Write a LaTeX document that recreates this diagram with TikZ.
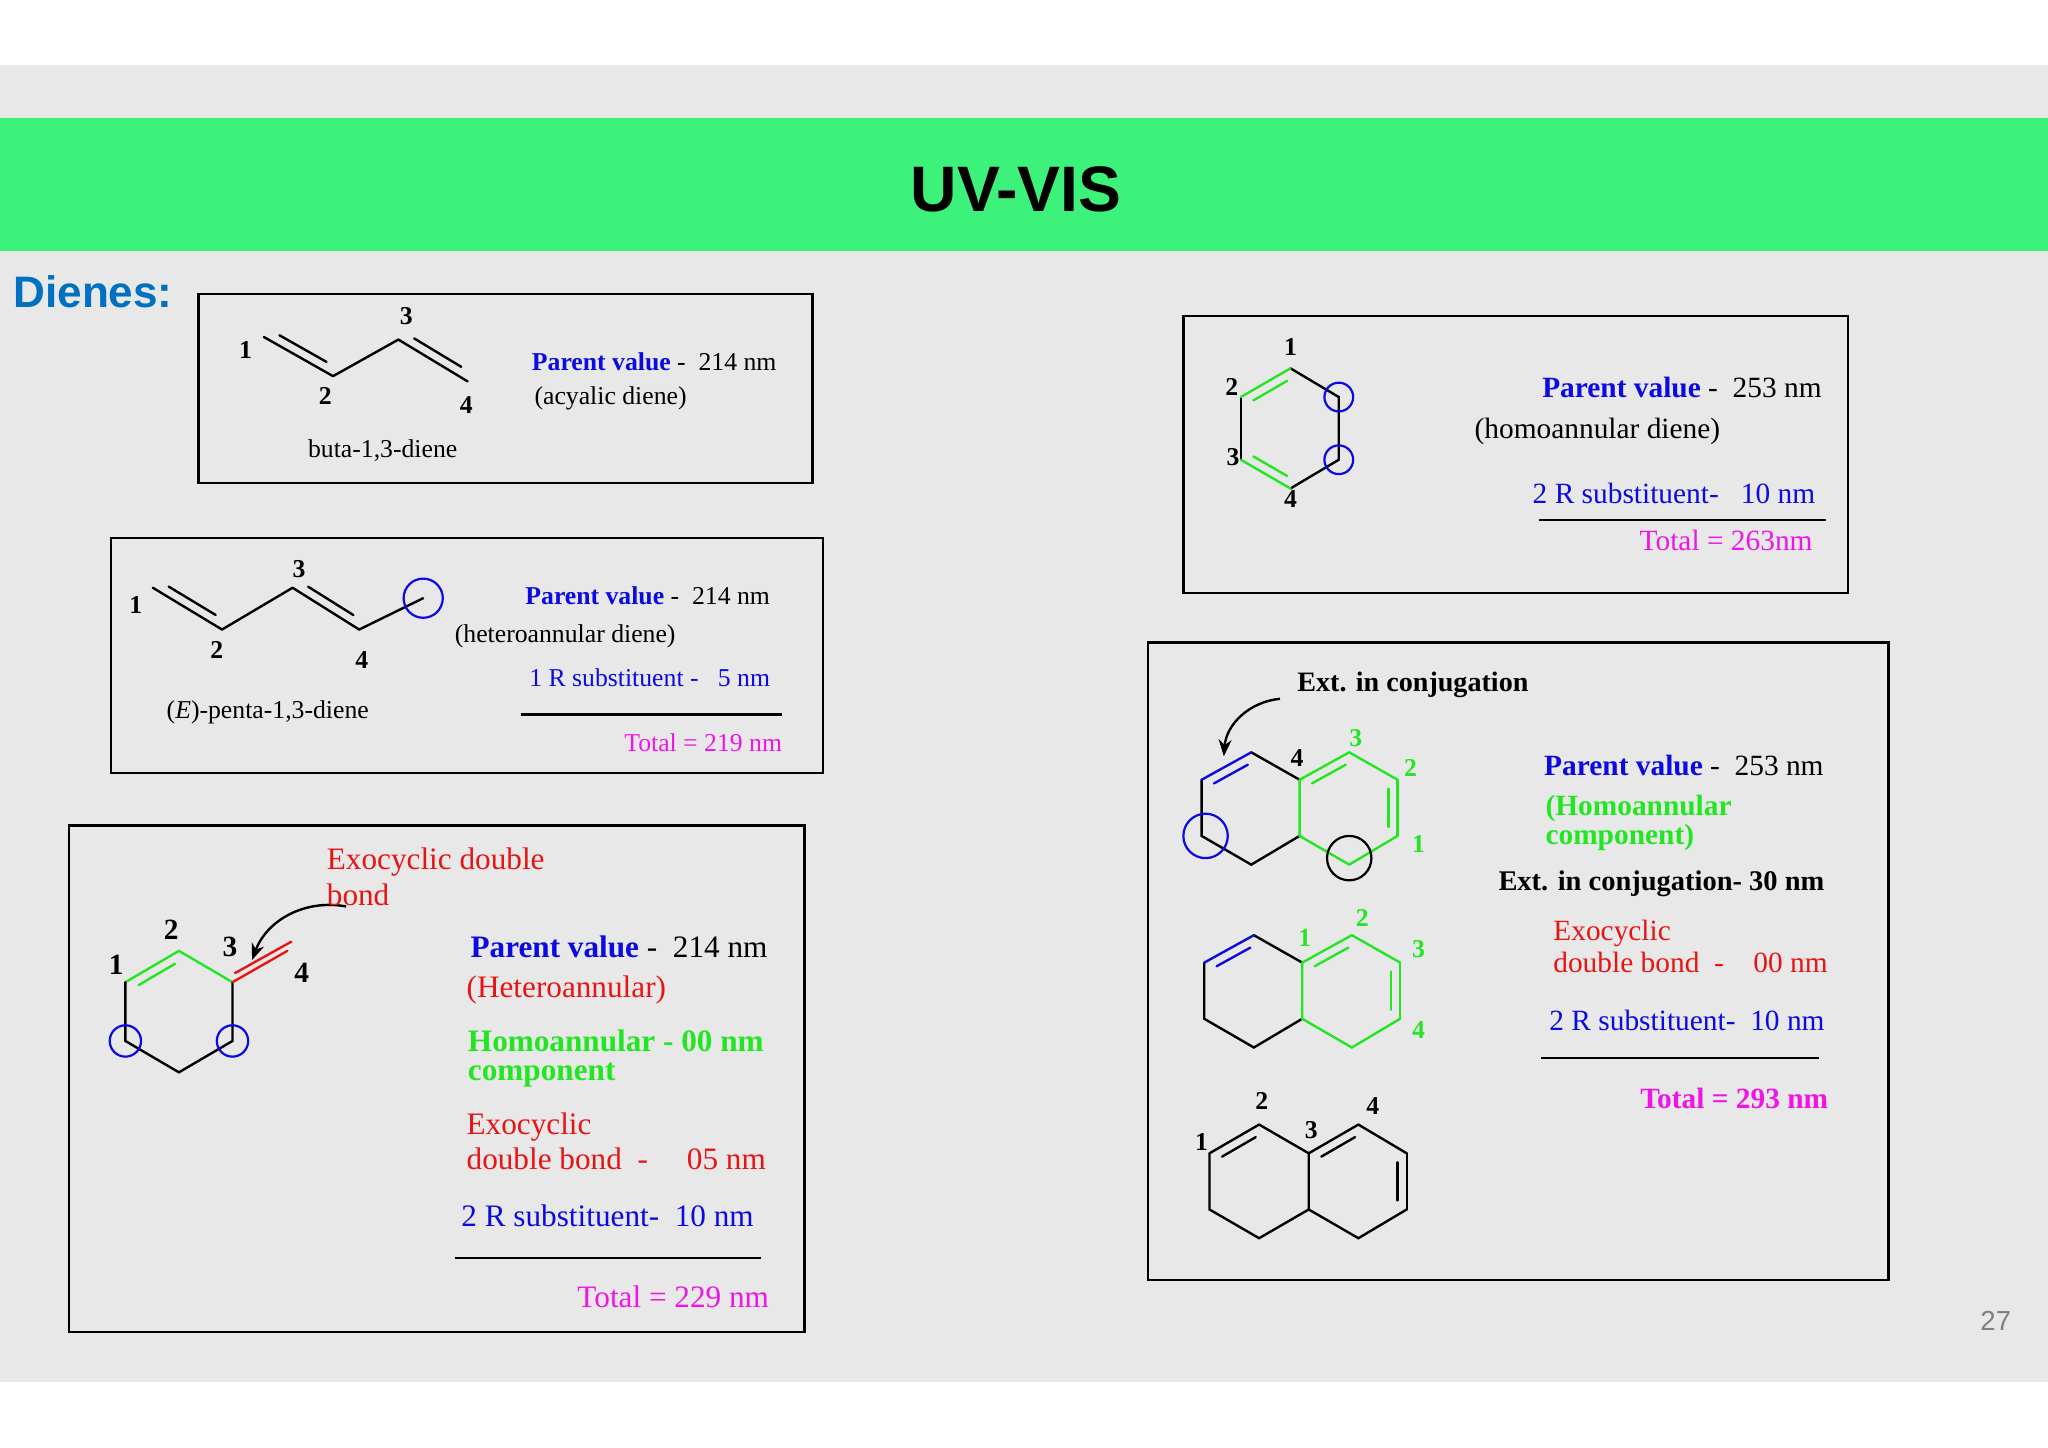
\documentclass[tikz,border=0pt]{standalone}
\usepackage{fontspec}
\setmainfont{Liberation Serif}
\newfontfamily\sansf{Liberation Sans}
\usetikzlibrary{calc,arrows.meta}
\definecolor{bgray}{RGB}{232,232,232}
\definecolor{band}{RGB}{60,242,122}
\definecolor{dblue}{RGB}{0,112,192}
\definecolor{pblue}{RGB}{10,10,225}
\definecolor{cgreen}{RGB}{35,230,35}
\definecolor{cmag}{RGB}{240,20,230}
\definecolor{cred}{RGB}{232,20,20}
\newcommand\dbond[4]{\draw[#1] (#2)--(#3);
 \draw[#1] ($(#2)!0.16!(#3)!5pt!#4:(#3)$)--($(#3)!0.16!(#2)!5pt!-#4:(#2)$);}
\tikzset{box/.style={draw=black,line width=1.3pt},
 bond/.style={line width=1.3pt,line cap=round},
 lab/.style={font=\fontsize{14}{16}\selectfont\bfseries},
 txt/.style={font=\fontsize{14}{16}\selectfont,anchor=west,inner sep=0pt},
 txtr/.style={font=\fontsize{16}{18}\selectfont,anchor=west,inner sep=0pt},
 txtb/.style={font=\fontsize{17}{19}\selectfont,anchor=west,inner sep=0pt},
 circ/.style={draw=pblue,line width=1.2pt},
 curarr/.style={-{Stealth[length=9pt,width=7pt]},line width=1.3pt}}
\begin{document}
\begin{tikzpicture}[x=0.025cm,y=-0.025cm]
\useasboundingbox (0,0) rectangle (1568,1108);
\fill[white] (0,0) rectangle (1568,1108);
\fill[bgray] (0,50) rectangle (1568,1058);
\fill[band] (0,90) rectangle (1568,192);
\node (title) at (778,145) {\sansf\bfseries\fontsize{35}{40}\selectfont UV-VIS};
\node[anchor=west,inner sep=0pt,text=dblue] (dienes) at (10,223) {\sansf\bfseries\fontsize{24}{28}\selectfont Dienes:};
\node (pg) at (1528,1011) {\sansf\fontsize{15}{18}\selectfont\color{gray}27};

% boxes
\draw[box] (152,225) rectangle (622,370);
\draw[box] (85,412) rectangle (630,592);
\draw[box] (53,632) rectangle (616,1020);
\draw[box] (906,242) rectangle (1415,454);
\draw[box] (879,492) rectangle (1446,980);

% box1 butadiene
\coordinate (a1) at (202,258); \coordinate (a2) at (255,288);
\coordinate (a3) at (305,260); \coordinate (a4) at (358,292);
\begin{scope}[bond]
\dbond{}{a1}{a2}{90}
\draw (a2)--(a3);
\dbond{}{a3}{a4}{90}
\end{scope}
\node[lab] (la1) at (188,268) {1}; \node[lab] (la2) at (249,303) {2};
\node[lab] (la3) at (311,242) {3}; \node[lab] (la4) at (357,310) {4};
\node[font=\fontsize{14}{16}\selectfont] (n1) at (293,345) {buta-1,3-diene};
\node[txt] (p1) at (407,277) {\textcolor{pblue}{\bfseries Parent value} -\ \ 214 nm};
\node[txt] (p1b) at (409,305) {(acyalic diene)};

% box2 pentadiene
\coordinate (b1) at (117,450); \coordinate (b2) at (170,482);
\coordinate (b3) at (224,450); \coordinate (b4) at (275,482);
\coordinate (b5) at (324,458);
\begin{scope}[bond]
\dbond{}{b1}{b2}{90}
\draw (b2)--(b3);
\dbond{}{b3}{b4}{90}
\draw (b4)--(b5);
\end{scope}
\draw[circ] (b5) circle (15);
\node[lab] (lb1) at (104,463) {1}; \node[lab] (lb2) at (166,498) {2};
\node[lab] (lb3) at (229,436) {3}; \node[lab] (lb4) at (277,505) {4};
\node[font=\fontsize{14}{16}\selectfont] (n2) at (205,545) {(\textit{E})-penta-1,3-diene};
\node[txt] (p2) at (402,456) {\textcolor{pblue}{\bfseries Parent value} -\ \ 214 nm};
\node[txt] (p2b) at (348,487) {(heteroannular diene)};
\node[txt,text=pblue] (p2c) at (405,519) {1 R substituent -\ \ \ 5 nm};
\draw[line width=1.2pt] (399,547)--(599,547);
\node[txt,anchor=east,text=cmag] (p2d) at (599,569) {Total = 219 nm};

% box4 hexagon
\coordinate (c1) at (988,282); \coordinate (c2) at (1025,304);
\coordinate (c3) at (1025,352); \coordinate (c4) at (988,374);
\coordinate (c5) at (950,352); \coordinate (c6) at (950,304);
\begin{scope}[bond]
\draw (c1)--(c2)--(c3)--(c4);
\draw (c5)--(c6);
\dbond{cgreen}{c6}{c1}{-90}
\dbond{cgreen}{c4}{c5}{-90}
\end{scope}
\draw[circ] (c2) circle (11); \draw[circ] (c3) circle (11);
\node[lab] (lc1) at (988,266) {1}; \node[lab] (lc2) at (943,296) {2};
\node[lab] (lc3) at (944,350) {3}; \node[lab] (lc4) at (988,382) {4};
\node[txtr,anchor=east] (p4) at (1395,297) {\textcolor{pblue}{\bfseries Parent value} -\ \ 253 nm};
\node[font=\fontsize{16}{18}\selectfont] (p4b) at (1223,330) {(homoannular diene)};
\node[txtr,anchor=east,text=pblue] (p4c) at (1390,378) {2 R substituent-\ \ \ 10 nm};
\draw[line width=1.2pt] (1178,398)--(1398,398);
\node[txtr,anchor=east,text=cmag] (p4d) at (1388,414) {Total = 263nm};

% box5 molecule 1
\coordinate (d1) at (958,576); \coordinate (d2) at (995,597);
\coordinate (d3) at (995,640); \coordinate (d4) at (958,662);
\coordinate (d5) at (920,640); \coordinate (d6) at (920,597);
\coordinate (d7) at (1033,576); \coordinate (d8) at (1070,597);
\coordinate (d9) at (1070,640); \coordinate (d10) at (1033,662);
\begin{scope}[bond]
\draw (d1)--(d2); \draw (d3)--(d4)--(d5)--(d6);
\dbond{pblue}{d6}{d1}{-90}
\draw[cgreen] (d2)--(d3)--(d10)--(d9); \draw[cgreen] (d7)--(d8);
\dbond{cgreen}{d2}{d7}{-90}
\dbond{cgreen}{d8}{d9}{-90}
\end{scope}
\draw[circ] (923,640) circle (17);
\draw[line width=1.2pt] (1033,657) circle (17);
\node[lab] (ld4) at (993,580) {4};
\node[lab,text=cgreen] (ld3) at (1038,565) {3};
\node[lab,text=cgreen] (ld2) at (1080,588) {2};
\node[lab,text=cgreen] (ld1) at (1086,646) {1};
\coordinate (ar1) at (980,535); \coordinate (ar2) at (937,579);
\draw[curarr] (ar1) to[bend right=40] (ar2);
\node[txt,font=\fontsize{15.3}{17}\selectfont\bfseries] (ext) at (993,524) {Ext. in conjugation};

% molecule 2
\coordinate (e1) at (960,716); \coordinate (e2) at (997,737);
\coordinate (e3) at (997,780); \coordinate (e4) at (960,802);
\coordinate (e5) at (922,780); \coordinate (e6) at (922,737);
\coordinate (e7) at (1035,716); \coordinate (e8) at (1072,737);
\coordinate (e9) at (1072,780); \coordinate (e10) at (1035,802);
\begin{scope}[bond]
\draw (e1)--(e2); \draw (e3)--(e4)--(e5)--(e6);
\dbond{pblue}{e6}{e1}{-90}
\draw[cgreen] (e2)--(e3)--(e10)--(e9); \draw[cgreen] (e7)--(e8);
\dbond{cgreen}{e2}{e7}{-90}
\dbond{cgreen}{e8}{e9}{-90}
\end{scope}
\node[lab,text=cgreen] (le1) at (999,718) {1};
\node[lab,text=cgreen] (le2) at (1043,703) {2};
\node[lab,text=cgreen] (le3) at (1086,727) {3};
\node[lab,text=cgreen] (le4) at (1086,789) {4};

% molecule 3
\coordinate (f1) at (964,861); \coordinate (f2) at (1002,883);
\coordinate (f3) at (1002,926); \coordinate (f4) at (964,948);
\coordinate (f5) at (926,926); \coordinate (f6) at (926,883);
\coordinate (f7) at (1040,861); \coordinate (f8) at (1077,883);
\coordinate (f9) at (1077,926); \coordinate (f10) at (1040,948);
\begin{scope}[bond]
\draw (f1)--(f2); \draw (f2)--(f3)--(f4)--(f5)--(f6);
\dbond{}{f6}{f1}{-90}
\draw (f3)--(f10)--(f9); \draw (f7)--(f8);
\dbond{}{f2}{f7}{-90}
\dbond{}{f8}{f9}{-90}
\end{scope}
\node[lab] (lf1) at (920,874) {1}; \node[lab] (lf2) at (966,843) {2};
\node[lab] (lf3) at (1004,865) {3}; \node[lab] (lf4) at (1051,847) {4};

\node[txtr] (p5) at (1182,586) {\textcolor{pblue}{\bfseries Parent value} -\ \ 253 nm};
\node[txtr,text=cgreen,font=\fontsize{16}{18}\selectfont\bfseries] (p5b) at (1183,619) {(Homoannular};
\node[txtr,text=cgreen,font=\fontsize{16}{18}\selectfont\bfseries] (p5c) at (1183,641) {component)};
\node[txtr,font=\fontsize{15.5}{18}\selectfont\bfseries] (p5d) at (1147,677) {Ext. in conjugation- 30 nm};
\node[txtr,text=cred] (p5e) at (1189,715) {Exocyclic};
\node[txtr,text=cred] (p5f) at (1189,737) {double bond\ \ -\ \ \ \ 00 nm};
\node[txtr,text=pblue] (p5g) at (1186,781) {2 R substituent-\ \ 10 nm};
\draw[line width=1.2pt] (1180,810)--(1393,810);
\node[txtr,anchor=east,text=cmag,font=\fontsize{16}{18}\selectfont\bfseries] (p5h) at (1400,841) {Total = 293 nm};

% box3 molecule
\coordinate (g1) at (96,752); \coordinate (g2) at (137,728);
\coordinate (g3) at (178,752); \coordinate (g4) at (178,797);
\coordinate (g5) at (137,821); \coordinate (g6) at (96,797);
\coordinate (g7) at (220,728);
\coordinate (g3b) at (180,745); \coordinate (g7b) at (223,721);
\begin{scope}[bond]
\dbond{cgreen}{g1}{g2}{-90}
\draw[cgreen] (g2)--(g3);
\draw (g3)--(g4)--(g5)--(g6)--(g1);
\draw[cred] (g3)--(g7);
\draw[cred] (g3b)--(g7b);
\end{scope}
\draw[circ] (g6) circle (12); \draw[circ] (g4) circle (12);
\node[lab,font=\fontsize{16}{18}\selectfont\bfseries] (lg1) at (89,739) {1};
\node[lab,font=\fontsize{16}{18}\selectfont\bfseries] (lg2) at (131,712) {2};
\node[lab,font=\fontsize{16}{18}\selectfont\bfseries] (lg3) at (176,725) {3};
\node[lab,font=\fontsize{16}{18}\selectfont\bfseries] (lg4) at (231,745) {4};
\coordinate (ar3) at (265,694); \coordinate (ar4) at (193,735);
\draw[curarr] (ar3) to[bend right=40] (ar4);
\node[txtb,text=cred] (x1) at (250,660) {Exocyclic double};
\node[txtb,text=cred] (x2) at (250,685) {bond};
\node[txtb] (q1) at (360,725) {\textcolor{pblue}{\bfseries Parent value} -\ \ 214 nm};
\node[txtb,text=cred] (q2) at (357,758) {(Heteroannular)};
\node[txtb,text=cgreen,font=\fontsize{17}{19}\selectfont\bfseries] (q3) at (358,797) {Homoannular - 00 nm};
\node[txtb,text=cgreen,font=\fontsize{17}{19}\selectfont\bfseries] (q4) at (358,823) {component};
\node[txtb,text=cred] (q5) at (357,863) {Exocyclic};
\node[txtb,text=cred] (q6) at (357,887) {double bond\ \ -\ \ \ \ \ 05 nm};
\node[txtb,text=pblue] (q7) at (353,931) {2 R substituent-\ \ 10 nm};
\draw[line width=1.2pt] (348,963)--(583,963);
\node[txtb,anchor=east,text=cmag] (q8) at (589,993) {Total = 229 nm};
\end{tikzpicture}
\end{document}
